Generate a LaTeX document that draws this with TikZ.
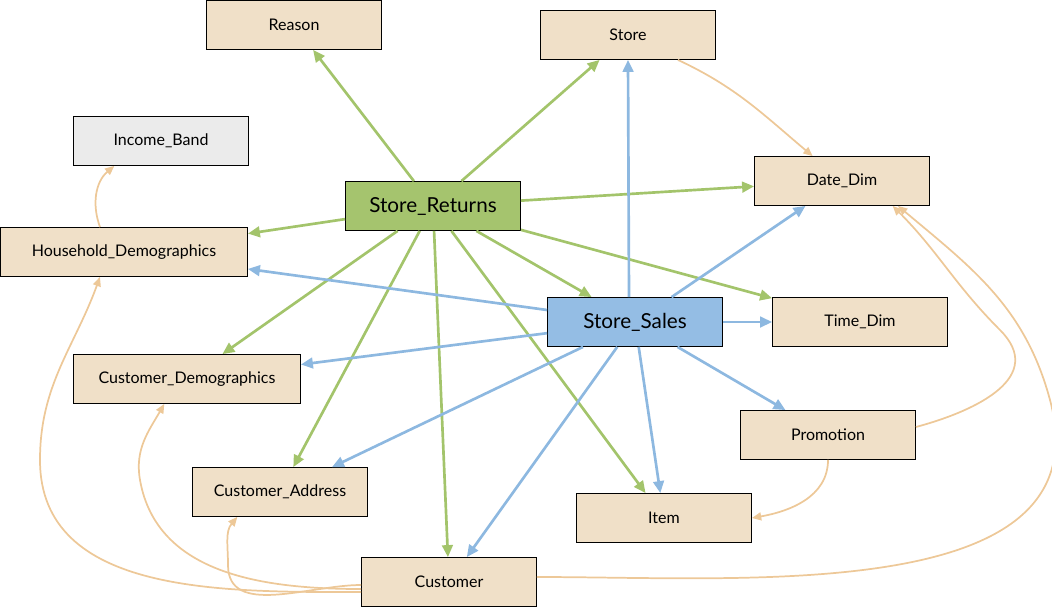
\documentclass[tikz,border=0pt]{standalone}
\usepackage{fontspec}
\setmainfont{Lato}
\usetikzlibrary{arrows.meta}
\definecolor{beige}{RGB}{240,224,200}
\definecolor{gfill}{RGB}{165,196,110}
\definecolor{bfill}{RGB}{148,189,228}
\definecolor{gray1}{RGB}{235,235,235}
\definecolor{garr}{RGB}{163,196,107}
\definecolor{barr}{RGB}{141,184,224}
\definecolor{oarr}{RGB}{237,200,152}
\tikzset{
 box/.style={draw=black, line width=0.6pt, fill=beige, minimum width=175*0.75pt, minimum height=49*0.75pt, inner sep=2pt, font=\fontsize{12}{14}\selectfont},
 big/.style={box, font=\fontsize{15.5}{18}\selectfont},
 ga/.style={draw=garr, line width=2pt, -{Triangle[length=9pt,width=8pt]}},
 ba/.style={draw=barr, line width=2pt, -{Triangle[length=9pt,width=8pt]}},
 oa/.style={draw=oarr, line width=1.3pt, -{Triangle[length=7pt,width=6pt]}},
}
\begin{document}
\begin{tikzpicture}[x=0.75pt,y=-0.75pt]
\useasboundingbox (0,0) rectangle (1052,607);
\node[box] (reason) at (294,25) {Reason};
\node[box] (store) at (628,35) {Store};
\node[box, fill=gray1] (income) at (161,141) {Income\_Band};
\node[box] (date) at (842,181) {Date\_Dim};
\node[big, fill=gfill] (sr) at (433,206) {Store\_Returns};
\node[box, minimum width=247*0.75pt] (hh) at (124,252) {Household\_Demographics};
\node[big, fill=bfill] (ss) at (635,322) {Store\_Sales};
\node[box] (time) at (860,322) {Time\_Dim};
\node[box, minimum width=227*0.75pt] (cd) at (187,379) {Customer\_Demographics};
\node[box] (promo) at (828,435) {Promotion};
\node[box] (ca) at (280,492) {Customer\_Address};
\node[box] (item) at (664,518) {Item};
\node[box] (cust) at (449,582) {Customer};

\foreach \t in {reason,store,date,hh,ss,time,cd,ca,cust,item}
  \draw[ga] (sr) -- (\t);
\draw[ba] (ss.north) ++(-6,0) coordinate (s1) -- (store.south);
\foreach \t in {date,time,hh,cd,ca,cust,item,promo}
  \draw[ba] (ss) -- (\t);

\draw[oa] (store.south east) ++(-38,0) coordinate (o1) to[out=-25,in=140] ([xshift=-22]date.north);
\draw[oa] (hh.north) ++(-24,0) coordinate (o2) to[out=110,in=220] ([xshift=-35]income.south);
\draw[oa] (promo.east) ++(0,-8) coordinate (o3) to[out=15,in=-45,looseness=1.3] (1000,330) to[out=135,in=-45] ([xshift=38]date.south);
\draw[oa] (cust.east) ++(0,-5) coordinate (o4) to[out=0,in=-75] (1050,400) to[out=105,in=-40] ([xshift=42]date.south);
\draw[oa] (promo.south) to[out=-90,in=10] (item.east);
\draw[oa] (cust.west) ++(0,10) coordinate (o5) to[out=180,in=-90] (40,460) to[out=90,in=-110] ([xshift=-18]hh.south);
\draw[oa] (cust.west) ++(0,7) coordinate (o6) to[out=180,in=-80] (140,480) to[out=100,in=-120] ([xshift=-17]cd.south);
\draw[oa] (cust.west) ++(0,3) coordinate (o7) to[out=180,in=-90] (228,565) to[out=90,in=-130] ([xshift=-32]ca.south);
\end{tikzpicture}
\end{document}
